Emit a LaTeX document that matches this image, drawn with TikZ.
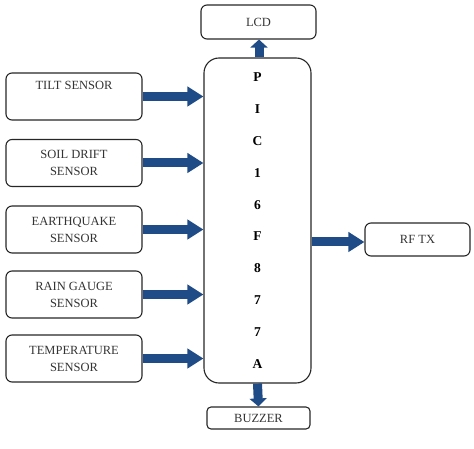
\documentclass[tikz,border=0pt]{standalone}
\usepackage{fontspec}
\setmainfont{Liberation Serif}
\usetikzlibrary{arrows.meta}
\definecolor{arrowblue}{HTML}{1F4B87}
\definecolor{boxline}{HTML}{262626}
\definecolor{textgray}{HTML}{333333}
\begin{document}
\begin{tikzpicture}[x=1pt,y=-1pt,
  box/.style={draw=boxline, line width=1.1pt, rounded corners=6pt, align=center,
    font=\fontsize{12.5}{17}\selectfont, text=textgray, inner sep=0pt},
  sensorbox/.style={box, minimum width=136pt, minimum height=47pt},
  harrow/.style={draw=arrowblue, line width=9pt, -{Triangle[width=19pt,length=16pt]}},
  varrow/.style={draw=arrowblue, line width=9pt, -{Triangle[width=17pt,length=8pt]}},
]
\useasboundingbox (0,0) rectangle (474,449);
% sensors
\node[sensorbox] (tilt)  at (74,96.5)  {TILT SENSOR\\\strut};
\node[sensorbox] (soil)  at (74,163)   {SOIL DRIFT\\SENSOR};
\node[sensorbox] (quake) at (74,229.5) {EARTHQUAKE\\SENSOR};
\node[sensorbox] (rain)  at (74,294.5) {RAIN GAUGE\\SENSOR};
\node[sensorbox] (temp)  at (74,358.5) {TEMPERATURE\\SENSOR};
% microcontroller
\node[box, rounded corners=15pt, minimum width=107pt, minimum height=325pt, text=black,
  font=\fontsize{13.5}{31.8}\selectfont\bfseries] (pic) at (257.5,220.5)
  {P\\I\\C\\1\\6\\F\\8\\7\\7\\A};
% outputs
\node[box, minimum width=115pt, minimum height=34pt] (lcd) at (258.5,22) {LCD};
\node[box, rounded corners=4pt, minimum width=103pt, minimum height=22pt] (buzzer) at (258.5,418) {BUZZER};
\node[box, minimum width=105pt, minimum height=33pt] (rf) at (417.5,239.5) {RF TX};
% connectors
\foreach \s in {tilt,soil,quake,rain,temp}
  \draw[harrow] (\s.east) -- (\s.east -| pic.west);
\draw[harrow] (pic.east |- 0,242) -- (rf.west |- 0,242);
\draw[varrow] (pic.north -| 259,0) -- (lcd.south -| 259,0);
\draw[varrow] (pic.south) -- (buzzer.north);
\end{tikzpicture}
\end{document}
